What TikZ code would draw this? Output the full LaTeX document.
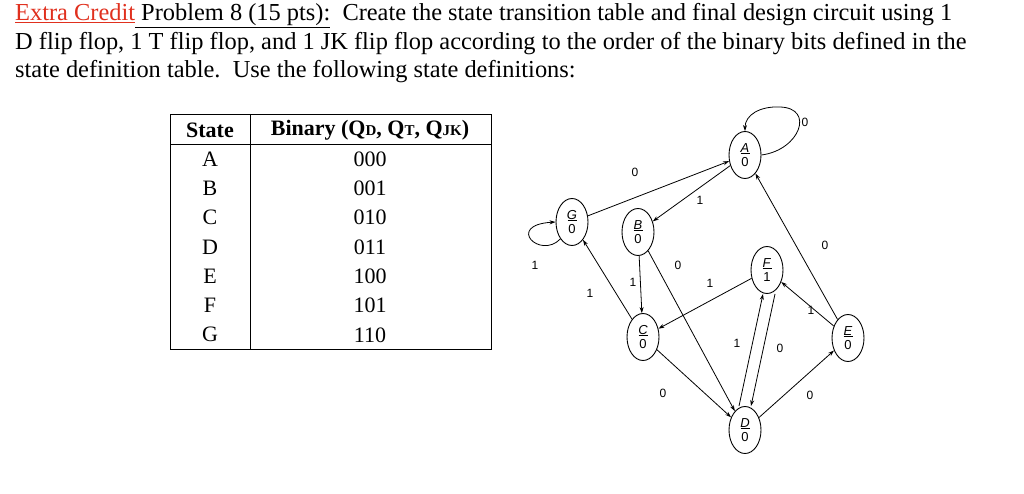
\documentclass[tikz,border=0pt]{standalone}
\usepackage{fontspec}
\setmainfont{Liberation Serif}
\setsansfont{Liberation Sans}
\usetikzlibrary{shapes.geometric,arrows.meta}
\begin{document}
\begin{tikzpicture}[x=1pt,y=-1pt,
  st/.style={ellipse,draw,line width=0.9pt,minimum width=32pt,minimum height=47pt,inner sep=0pt,font=\sffamily\fontsize{13}{13}\selectfont},
  ed/.style={-{Stealth[length=6pt,width=4pt]},line width=0.8pt},
  lb/.style={font=\sffamily\fontsize{12}{12}\selectfont},
  hd/.style={anchor=base west,inner sep=0pt,font=\fontsize{24.4}{24.4}\selectfont},
  tc/.style={font=\fontsize{22}{22}\selectfont}]
\useasboundingbox (0,0) rectangle (1024,494);
\node[hd] (l1) at (15,21) {\textcolor[HTML]{E0301E}{\underline{Extra Credit}}\underline{\ Problem 8 (15 pts):}\ \ Create the state transition table and final design circuit using 1};
\node[hd] (l2) at (15,50) {D flip flop, 1 T flip flop, and 1 JK flip flop according to the order of the binary bits defined in the};
\node[hd] (l3) at (15,78) {state definition table.\ \ Use the following state definitions:};
% table
\draw[line width=0.7pt] (170,114) rectangle (491,349);
\draw[line width=0.7pt] (250,114) -- (250,349);
\draw[line width=0.7pt] (170,144) -- (491,144);
\node[tc] (h1) at (210,130) {\textbf{State}};
\node[tc] (h2) at (370,130) {\textbf{Binary (Q{\fontsize{15}{15}\selectfont D}, Q{\fontsize{15}{15}\selectfont T}, Q{\fontsize{15}{15}\selectfont JK})}};
\foreach \s/\b [count=\i from 0] in {A/000,B/001,C/010,D/011,E/100,F/101,G/110}{
  \node[tc] (s\i) at (210,159+29.3*\i) {\s};
  \node[tc] (b\i) at (370,159+29.3*\i) {\b};
}
% states
\newcommand{\stl}[2]{\shortstack{\textit{#1}\\[-2pt]\rule{9pt}{0.6pt}\\[1pt]#2}}
\node[st] (A) at (745,155) {\stl{A}{0}};
\node[st] (G) at (572,222) {\stl{G}{0}};
\node[st] (B) at (638,232) {\stl{B}{0}};
\node[st] (F) at (767,270) {\stl{F}{1}};
\node[st] (C) at (643,337) {\stl{C}{0}};
\node[st] (E) at (848,338) {\stl{E}{0}};
\node[st] (D) at (745,430) {\stl{D}{0}};
\draw[ed] (A.east) .. controls (800,150) and (815,108) .. (780,107) .. controls (760,106) and (745,115) .. (A.north);
\draw[ed] (G.south west) .. controls (540,260) and (505,225) .. (G.west);
\draw[ed] (G) -- (A);
\draw[ed] (A) -- (B);
\draw[ed] (B) -- (C);
\draw[ed] (B) -- (D);
\draw[ed] (C) -- (G);
\draw[ed] (F) -- (C);
\draw[ed] (C) -- (D);
\draw[ed] ([xshift=-6pt]D.north) -- ([xshift=-4pt]F.south);
\draw[ed] ([xshift=8pt]F.south) -- ([xshift=6pt]D.north);
\draw[ed] (D) -- (E);
\draw[ed] (E) -- (F);
\draw[ed] (E) -- (A);
\node[lb] (t1) at (635,172) {0};
\node[lb] (t2) at (700,200) {1};
\node[lb] (t3) at (805,122) {0};
\node[lb] (t4) at (535,265) {1};
\node[lb] (t5) at (633,282) {1};
\node[lb] (t6) at (678,265) {0};
\node[lb] (t7) at (590,293) {1};
\node[lb] (t8) at (710,283) {1};
\node[lb] (t9) at (737,343) {1};
\node[lb] (t10) at (780,348) {0};
\node[lb] (t11) at (811,310) {1};
\node[lb] (t12) at (825,245) {0};
\node[lb] (t13) at (663,393) {0};
\node[lb] (t14) at (810,395) {0};
\end{tikzpicture}
\end{document}
